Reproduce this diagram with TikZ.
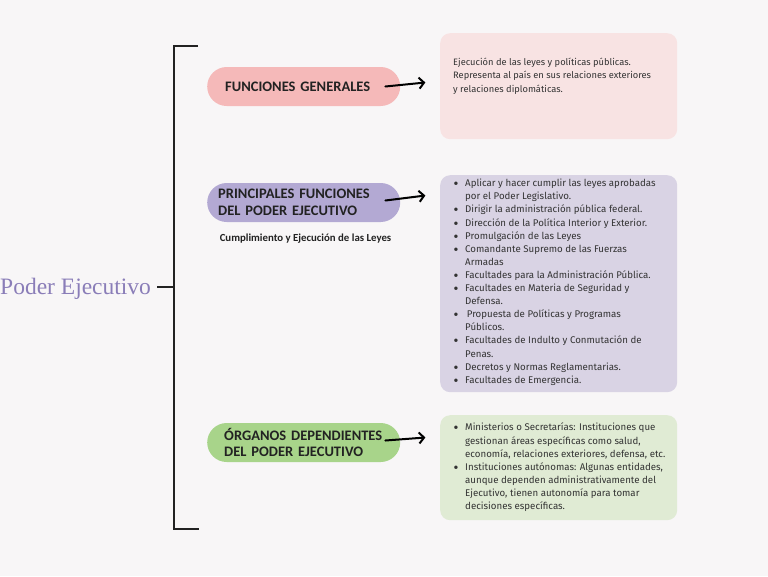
\documentclass[tikz,border=0pt]{standalone}
\usepackage{fontspec}
\setmainfont{Carlito}
\newfontfamily\titleserif{Liberation Serif}
\newfontfamily\boxsans{Fira Sans}
\usetikzlibrary{arrows.meta}
\definecolor{bgcol}{HTML}{F8F6F7}
\definecolor{titlecol}{HTML}{8A7DB8}
\definecolor{inkcol}{HTML}{222222}
\definecolor{boxink}{HTML}{333333}
\definecolor{pinkpill}{HTML}{F5B9B9}
\definecolor{lilacpill}{HTML}{B3A9D3}
\definecolor{greenpill}{HTML}{A8D48A}
\definecolor{pinkbox}{HTML}{F8E3E3}
\definecolor{lilacbox}{HTML}{D9D3E4}
\definecolor{greenbox}{HTML}{E0EBD4}
\newcommand{\bul}{\makebox[12pt][l]{\hspace*{0.5pt}{\normalfont\textbullet}}}
\newcommand{\cont}{\hspace*{12pt}}
\begin{document}
\begin{tikzpicture}[x=1pt,y=-1pt,
    title/.style={font=\titleserif\fontsize{23.5}{28}\selectfont, text=titlecol, inner sep=0pt, anchor=west},
    pill/.style={rounded corners=19.5pt, minimum height=39pt, anchor=west, align=left,
      font=\bfseries\fontsize{14.5}{16.5}\selectfont, text=inkcol},
    box/.style={rounded corners=10pt, minimum width=237pt, anchor=north west, inner sep=0pt},
    boxtext/.style={anchor=north west, inner sep=0pt, align=left,
      font=\boxsans\fontsize{9.7}{13.1}\selectfont, text=boxink},
    arr/.style={-{Straight Barb[length=5pt,width=11pt]}, line width=2pt, line cap=round, draw=black},
    bracket/.style={line width=1.3pt, draw=inkcol}]
  \fill[bgcol] (0,0) rectangle (768,576);
  \useasboundingbox (0,0) rectangle (768,576);

  \node[title] (root) at (0,289) {Poder Ejecutivo};
  \coordinate (brtop) at (198,46);
  \coordinate (brmid) at (174,287);
  \coordinate (brbot) at (199,529);

  \node[pill, fill=pinkpill, inner xsep=18pt, text width=157pt] (genpill) at (207,86.5) {FUNCIONES GENERALES};
  \node[pill, fill=lilacpill, inner xsep=11pt, text width=171pt] (prinpill) at (207,202.5) {PRINCIPALES FUNCIONES\\DEL PODER EJECUTIVO};
  \node[pill, fill=greenpill, inner xsep=17pt, text width=159pt] (orgpill) at (207,442.5) {ÓRGANOS DEPENDIENTES\\DEL PODER EJECUTIVO};
  \node[font=\bfseries\fontsize{10.8}{12}\selectfont, text=inkcol, inner sep=0pt] (cumple) at (305.5,239) {Cumplimiento y Ejecución de las Leyes};

  \node[box, fill=pinkbox, minimum height=106pt] (genbox) at (440,33) {};
  \node[box, fill=lilacbox, minimum height=217pt] (prinbox) at (440,175) {};
  \node[box, fill=greenbox, minimum height=105pt] (orgbox) at (440,415) {};

  \node[boxtext, font=\boxsans\fontsize{9.3}{13.3}\selectfont] (gentext) at (453,58) {Ejecución de las leyes y políticas públicas.\\
    Representa al país en sus relaciones exteriores\\
    y relaciones diplomáticas.};
  \node[boxtext] (printext) at (453,179) {\bul Aplicar y hacer cumplir las leyes aprobadas\\
    \cont por el Poder Legislativo.\\
    \bul Dirigir la administración pública federal.\\
    \bul Dirección de la Política Interior y Exterior.\\
    \bul Promulgación de las Leyes\\
    \bul Comandante Supremo de las Fuerzas\\
    \cont Armadas\\
    \bul Facultades para la Administración Pública.\\
    \bul Facultades en Materia de Seguridad y\\
    \cont Defensa.\\
    \bul\,Propuesta de Políticas y Programas\\
    \cont Públicos.\\
    \bul Facultades de Indulto y Conmutación de\\
    \cont Penas.\\
    \bul Decretos y Normas Reglamentarias.\\
    \bul Facultades de Emergencia.};
  \node[boxtext] (orgtext) at (453,423) {\bul Ministerios o Secretarías: Instituciones que\\
    \cont gestionan áreas específicas como salud,\\
    \cont economía, relaciones exteriores, defensa, etc.\\
    \bul Instituciones autónomas: Algunas entidades,\\
    \cont aunque dependen administrativamente del\\
    \cont Ejecutivo, tienen autonomía para tomar\\
    \cont decisiones específicas.};

  \draw[bracket] (brtop) -- (174,46) -- (174,529) -- (brbot);
  \draw[bracket] ([xshift=6pt]root.east |- brmid) -- (brmid);
  \draw[arr] ([xshift=-15pt]genpill.east) -- ++(40,-4);
  \draw[arr] ([xshift=-15pt,yshift=2pt]prinpill.east) -- ++(40,-5);
  \draw[arr] ([xshift=-15pt,yshift=2pt]orgpill.east) -- ++(40,-3);
\end{tikzpicture}
\end{document}
